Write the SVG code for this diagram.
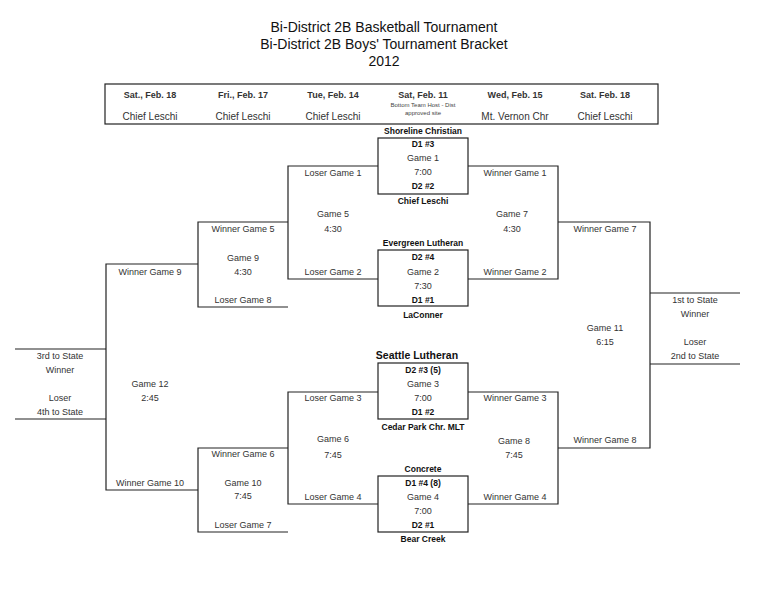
<svg xmlns="http://www.w3.org/2000/svg" width="768" height="594" viewBox="0 0 768 594">
<style>
text{font-family:"Liberation Sans",Arial,sans-serif;fill:#222;text-anchor:middle}
.t{font-size:14px;fill:#111}
.h{font-size:9px;font-weight:bold;fill:#333}
.s{font-size:10px;fill:#333}
.x{font-size:6px;fill:#444}
.b{font-size:8.5px;font-weight:bold;fill:#111}
.bl{font-size:10.5px;font-weight:bold;fill:#111}
.l{font-size:9px;fill:#333}
.ln{stroke:#222;stroke-width:1.2;fill:none}
</style>
<rect width="768" height="594" fill="#fff"/>
<g id="title">
<text class="t" x="384" y="32">Bi-District 2B Basketball Tournament</text>
<text class="t" x="384" y="49">Bi-District 2B Boys' Tournament Bracket</text>
<text class="t" x="384" y="66">2012</text>
</g>
<g id="header">
<rect class="ln" x="105" y="84" width="553" height="40"/>
<text class="h" x="150" y="98">Sat., Feb. 18</text>
<text class="h" x="243" y="98">Fri., Feb. 17</text>
<text class="h" x="333" y="98">Tue, Feb. 14</text>
<text class="h" x="423" y="98">Sat, Feb. 11</text>
<text class="h" x="515" y="98">Wed, Feb. 15</text>
<text class="h" x="605" y="98">Sat. Feb. 18</text>
<text class="x" x="423" y="107">Bottom Team Host - Dist</text>
<text class="x" x="423" y="115">approved site</text>
<text class="s" x="150" y="120">Chief Leschi</text>
<text class="s" x="243" y="120">Chief Leschi</text>
<text class="s" x="333" y="120">Chief Leschi</text>
<text class="s" x="515" y="120">Mt. Vernon Chr</text>
<text class="s" x="605" y="120">Chief Leschi</text>
</g>
<g id="game1">
<text class="b" x="423" y="134">Shoreline Christian</text>
<rect class="ln" x="378" y="138" width="90" height="56"/>
<text class="b" x="423" y="147">D1 #3</text>
<text class="l" x="423" y="161">Game 1</text>
<text class="l" x="423" y="175">7:00</text>
<text class="b" x="423" y="189">D2 #2</text>
<text class="b" x="423" y="204">Chief Leschi</text>
</g>
<g id="game2">
<text class="b" x="423" y="246">Evergreen Lutheran</text>
<rect class="ln" x="378" y="250" width="90" height="56"/>
<text class="b" x="423" y="260">D2 #4</text>
<text class="l" x="423" y="275">Game 2</text>
<text class="l" x="423" y="289">7:30</text>
<text class="b" x="423" y="303">D1 #1</text>
<text class="b" x="423" y="318">LaConner</text>
</g>
<g id="game3">
<text class="bl" x="417" y="359">Seattle Lutheran</text>
<rect class="ln" x="378" y="363" width="90" height="56"/>
<text class="b" x="423" y="373">D2 #3 (5)</text>
<text class="l" x="423" y="387">Game 3</text>
<text class="l" x="423" y="401">7:00</text>
<text class="b" x="423" y="415">D1 #2</text>
<text class="b" x="423" y="430">Cedar Park Chr.  MLT</text>
</g>
<g id="game4">
<text class="b" x="423" y="472">Concrete</text>
<rect class="ln" x="378" y="476" width="90" height="56"/>
<text class="b" x="423" y="486">D1 #4 (8)</text>
<text class="l" x="423" y="500">Game 4</text>
<text class="l" x="423" y="514">7:00</text>
<text class="b" x="423" y="528">D2 #1</text>
<text class="b" x="423" y="542">Bear Creek</text>
</g>
<g id="connectors">
<path class="ln" d="M378 166H288V279H378M288 222H198V307H288M198 264H106V490H198M15 349H106M15 419H106M378 392H288V504H378M288 448H198V532H288"/>
<path class="ln" d="M468 166H558V279H468M558 222H650V448H558M468 392H558V504H468M650 293H740M650 364H740"/>
</g>
<g id="labels">
<text class="l" x="333" y="176">Loser Game 1</text>
<text class="l" x="333" y="217">Game 5</text>
<text class="l" x="333" y="232">4:30</text>
<text class="l" x="333" y="275">Loser Game 2</text>
<text class="l" x="243" y="232">Winner Game 5</text>
<text class="l" x="243" y="261">Game 9</text>
<text class="l" x="243" y="275">4:30</text>
<text class="l" x="243" y="303">Loser Game 8</text>
<text class="l" x="150" y="275">Winner Game 9</text>
<text class="l" x="150" y="387">Game 12</text>
<text class="l" x="150" y="401">2:45</text>
<text class="l" x="60" y="359">3rd to State</text>
<text class="l" x="60" y="373">Winner</text>
<text class="l" x="60" y="401">Loser</text>
<text class="l" x="60" y="415">4th to State</text>
<text class="l" x="150" y="486">Winner Game 10</text>
<text class="l" x="243" y="457">Winner Game 6</text>
<text class="l" x="243" y="486">Game 10</text>
<text class="l" x="243" y="499">7:45</text>
<text class="l" x="243" y="528">Loser Game 7</text>
<text class="l" x="333" y="401">Loser Game 3</text>
<text class="l" x="333" y="442">Game 6</text>
<text class="l" x="333" y="458">7:45</text>
<text class="l" x="333" y="500">Loser Game 4</text>
<text class="l" x="515" y="176">Winner Game 1</text>
<text class="l" x="512" y="217">Game 7</text>
<text class="l" x="512" y="232">4:30</text>
<text class="l" x="515" y="275">Winner Game 2</text>
<text class="l" x="605" y="232">Winner Game 7</text>
<text class="l" x="605" y="331">Game 11</text>
<text class="l" x="605" y="345">6:15</text>
<text class="l" x="695" y="303">1st to State</text>
<text class="l" x="695" y="317">Winner</text>
<text class="l" x="695" y="345">Loser</text>
<text class="l" x="695" y="359">2nd to State</text>
<text class="l" x="515" y="401">Winner Game 3</text>
<text class="l" x="514" y="444">Game 8</text>
<text class="l" x="514" y="458">7:45</text>
<text class="l" x="605" y="443">Winner Game 8</text>
<text class="l" x="515" y="500">Winner Game 4</text>
</g>
</svg>
